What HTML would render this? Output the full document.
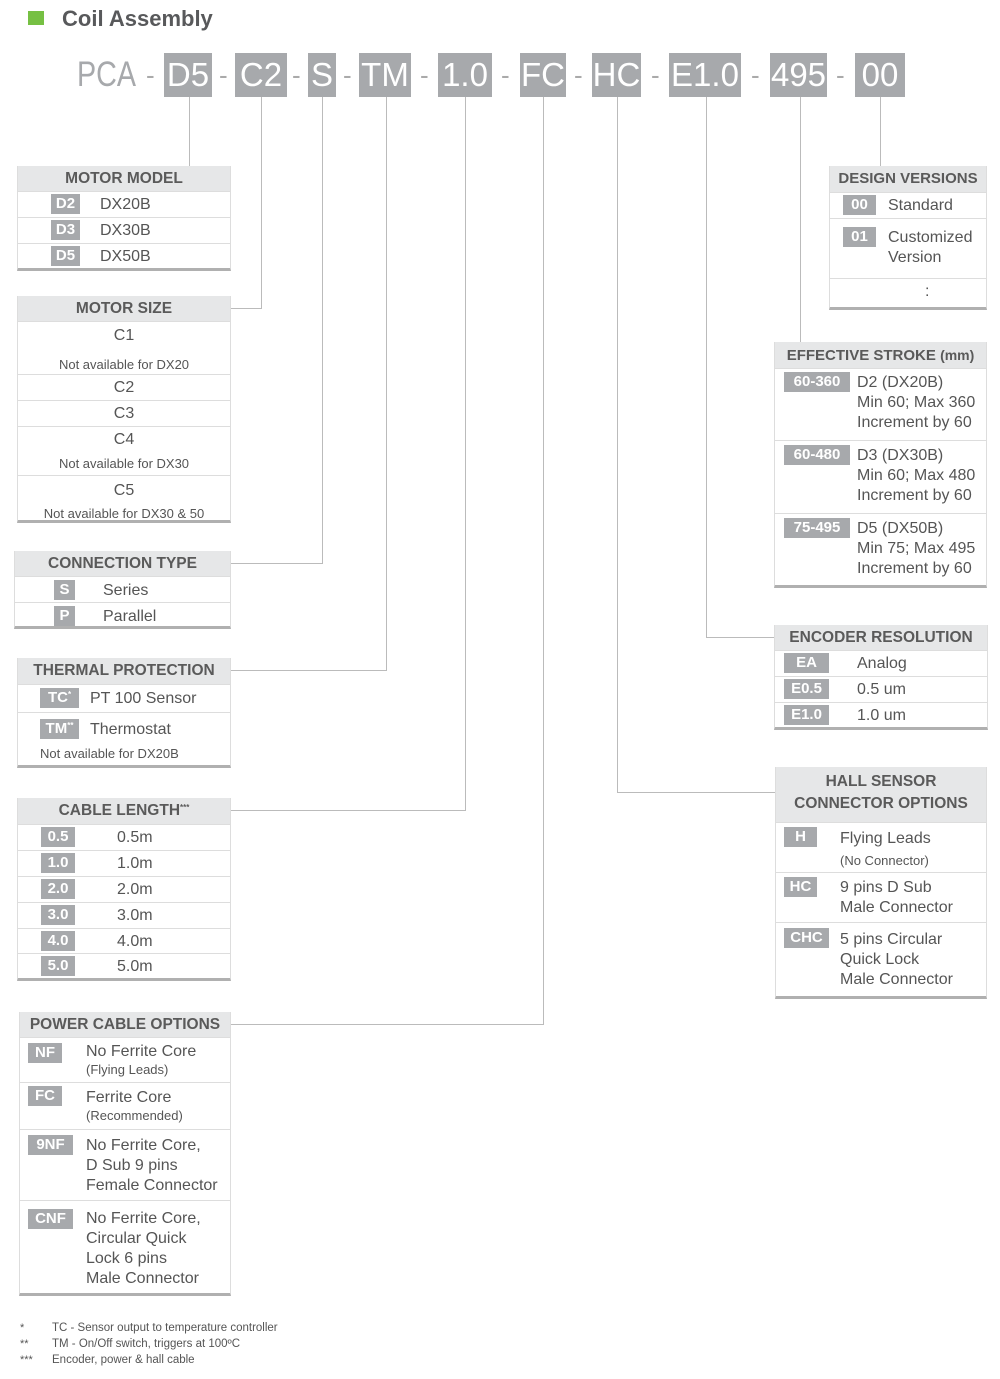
<!DOCTYPE html>
<html><head><meta charset="utf-8"><style>
body{margin:0;width:1000px;height:1379px;position:relative;background:#fff;font-family:"Liberation Sans","DejaVu Sans",sans-serif;color:#555;overflow:hidden}
div{position:absolute;box-sizing:border-box}
.cb{background:#a7a9ac;color:#fff;font-size:33px;line-height:44px;text-align:center;top:53px;height:44px;white-space:nowrap}
.dash{top:53px;line-height:44px;font-size:26px;color:#aaa}
.v{width:1px;background:#bbb}
.h{height:1px;background:#bbb}
.box{background:#fff;border-left:1px solid #ddd;border-right:1px solid #ddd;border-bottom:3px solid #b0b0b0}
.hd{background:#e6e7e8;text-align:center;font-size:15.5px;font-weight:bold;color:#5a5a5a;left:0;right:0;top:0;line-height:26px;white-space:nowrap}
.sep{height:1px;background:#ddd;left:0;right:0}
.bd{background:#a7a9ac;color:#fff;font-size:15px;line-height:20px;height:20px;text-align:center;font-weight:bold}
.bd sup{font-size:8px;position:relative;top:-5px;vertical-align:baseline}
.t{font-size:16px;line-height:20px;white-space:nowrap}
.s{font-size:13px;line-height:16px;white-space:nowrap}
.c{text-align:center}
</style></head><body>
<div style="left:28px;top:11px;width:16px;height:14px;background:#76c043"></div>
<div style="left:62px;top:5px;font-size:22px;line-height:28px;font-weight:bold;color:#58595b">Coil Assembly</div>

<div style="left:77px;top:53px;font-size:35px;line-height:44px;color:#a7a9ac;transform:scaleX(0.82);transform-origin:left">PCA</div>
<div class="dash" style="left:146px">-</div>
<div class="cb" style="left:164px;width:48px">D5</div>
<div class="dash" style="left:219px">-</div>
<div class="cb" style="left:235px;width:52px">C2</div>
<div class="dash" style="left:292px">-</div>
<div class="cb" style="left:308px;width:28px">S</div>
<div class="dash" style="left:343px">-</div>
<div class="cb" style="left:359px;width:52px">TM</div>
<div class="dash" style="left:420px">-</div>
<div class="cb" style="left:438px;width:54px">1.0</div>
<div class="dash" style="left:501px">-</div>
<div class="cb" style="left:520px;width:46px">FC</div>
<div class="dash" style="left:574px">-</div>
<div class="cb" style="left:592px;width:49px">HC</div>
<div class="dash" style="left:651px">-</div>
<div class="cb" style="left:669px;width:72px">E1.0</div>
<div class="dash" style="left:751px">-</div>
<div class="cb" style="left:770px;width:57px">495</div>
<div class="dash" style="left:836px">-</div>
<div class="cb" style="left:855px;width:50px">00</div>

<!-- connectors -->
<div class="v" style="left:189px;top:97px;height:69px"></div>
<div class="v" style="left:261px;top:97px;height:212px"></div><div class="h" style="left:231px;top:308px;width:31px"></div>
<div class="v" style="left:322px;top:97px;height:467px"></div><div class="h" style="left:231px;top:563px;width:92px"></div>
<div class="v" style="left:386px;top:97px;height:574px"></div><div class="h" style="left:231px;top:670px;width:156px"></div>
<div class="v" style="left:465px;top:97px;height:714px"></div><div class="h" style="left:231px;top:810px;width:235px"></div>
<div class="v" style="left:543px;top:97px;height:928px"></div><div class="h" style="left:231px;top:1024px;width:313px"></div>
<div class="v" style="left:617px;top:97px;height:696px"></div><div class="h" style="left:617px;top:792px;width:158px"></div>
<div class="v" style="left:706px;top:97px;height:541px"></div><div class="h" style="left:706px;top:637px;width:69px"></div>
<div class="v" style="left:800px;top:97px;height:245px"></div>
<div class="v" style="left:880px;top:97px;height:69px"></div>

<!-- MOTOR MODEL -->
<div class="box" style="left:17px;top:166px;width:214px;height:105px">
<div class="hd" style="height:25px">MOTOR MODEL</div>
<div class="sep" style="top:25px"></div><div class="sep" style="top:51px"></div><div class="sep" style="top:77px"></div>
</div>
<div class="bd" style="left:51px;top:194px;width:29px">D2</div><div class="t" style="left:100px;top:195px">DX20B</div>
<div class="bd" style="left:51px;top:220px;width:29px">D3</div><div class="t" style="left:100px;top:221px">DX30B</div>
<div class="bd" style="left:51px;top:246px;width:29px">D5</div><div class="t" style="left:100px;top:247px">DX50B</div>

<!-- MOTOR SIZE -->
<div class="box" style="left:17px;top:296px;width:214px;height:227px">
<div class="hd" style="height:25px">MOTOR SIZE</div>
<div class="sep" style="top:25px"></div><div class="sep" style="top:78px"></div><div class="sep" style="top:104px"></div><div class="sep" style="top:130px"></div><div class="sep" style="top:179px"></div>
</div>
<div class="t c" style="left:17px;width:214px;top:326px">C1</div>
<div class="s c" style="left:17px;width:214px;top:357px">Not available for DX20</div>
<div class="t c" style="left:17px;width:214px;top:378px">C2</div>
<div class="t c" style="left:17px;width:214px;top:404px">C3</div>
<div class="t c" style="left:17px;width:214px;top:430px">C4</div>
<div class="s c" style="left:17px;width:214px;top:456px">Not available for DX30</div>
<div class="t c" style="left:17px;width:214px;top:481px">C5</div>
<div class="s c" style="left:17px;width:214px;top:506px">Not available for DX30 &amp; 50</div>

<!-- CONNECTION TYPE -->
<div class="box" style="left:14px;top:551px;width:217px;height:78px">
<div class="hd" style="height:25px">CONNECTION TYPE</div>
<div class="sep" style="top:25px"></div><div class="sep" style="top:51px"></div>
</div>
<div class="bd" style="left:54px;top:580px;width:21px">S</div><div class="t" style="left:103px;top:581px">Series</div>
<div class="bd" style="left:54px;top:606px;width:21px">P</div><div class="t" style="left:103px;top:607px">Parallel</div>

<!-- THERMAL -->
<div class="box" style="left:17px;top:658px;width:214px;height:110px">
<div class="hd" style="height:26px">THERMAL PROTECTION</div>
<div class="sep" style="top:26px"></div><div class="sep" style="top:54px"></div>
</div>
<div class="bd" style="left:40px;top:688px;width:39px">TC<sup>*</sup></div><div class="t" style="left:90px;top:689px">PT 100 Sensor</div>
<div class="bd" style="left:40px;top:719px;width:39px">TM<sup>**</sup></div><div class="t" style="left:90px;top:720px">Thermostat</div>
<div class="s" style="left:40px;top:746px">Not available for DX20B</div>

<!-- CABLE LENGTH -->
<div class="box" style="left:17px;top:798px;width:214px;height:183px">
<div class="hd" style="height:26px">CABLE LENGTH<sup style="font-size:8px;position:relative;top:-5px;vertical-align:baseline">***</sup></div>
<div class="sep" style="top:26px"></div><div class="sep" style="top:52px"></div><div class="sep" style="top:78px"></div><div class="sep" style="top:104px"></div><div class="sep" style="top:130px"></div><div class="sep" style="top:155px"></div>
</div>
<div class="bd" style="left:41px;top:827px;width:34px">0.5</div><div class="t" style="left:117px;top:828px">0.5m</div>
<div class="bd" style="left:41px;top:853px;width:34px">1.0</div><div class="t" style="left:117px;top:854px">1.0m</div>
<div class="bd" style="left:41px;top:879px;width:34px">2.0</div><div class="t" style="left:117px;top:880px">2.0m</div>
<div class="bd" style="left:41px;top:905px;width:34px">3.0</div><div class="t" style="left:117px;top:906px">3.0m</div>
<div class="bd" style="left:41px;top:931px;width:34px">4.0</div><div class="t" style="left:117px;top:932px">4.0m</div>
<div class="bd" style="left:41px;top:956px;width:34px">5.0</div><div class="t" style="left:117px;top:957px">5.0m</div>

<!-- POWER CABLE -->
<div class="box" style="left:19px;top:1012px;width:212px;height:284px">
<div class="hd" style="height:25px">POWER CABLE OPTIONS</div>
<div class="sep" style="top:25px"></div><div class="sep" style="top:70px"></div><div class="sep" style="top:117px"></div><div class="sep" style="top:188px"></div>
</div>
<div class="bd" style="left:28px;top:1043px;width:34px">NF</div><div class="t" style="left:86px;top:1042px">No Ferrite Core</div><div class="s" style="left:86px;top:1062px">(Flying Leads)</div>
<div class="bd" style="left:28px;top:1086px;width:34px">FC</div><div class="t" style="left:86px;top:1088px">Ferrite Core</div><div class="s" style="left:86px;top:1108px">(Recommended)</div>
<div class="bd" style="left:28px;top:1135px;width:45px">9NF</div><div class="t" style="left:86px;top:1136px">No Ferrite Core,<br>D Sub 9 pins<br>Female Connector</div>
<div class="bd" style="left:28px;top:1209px;width:45px">CNF</div><div class="t" style="left:86px;top:1209px">No Ferrite Core,<br>Circular Quick<br>Lock 6 pins<br>Male Connector</div>

<!-- DESIGN VERSIONS -->
<div class="box" style="left:829px;top:166px;width:158px;height:144px">
<div class="hd" style="height:26px;font-size:15px">DESIGN VERSIONS</div>
<div class="sep" style="top:26px"></div><div class="sep" style="top:52px"></div><div class="sep" style="top:112px"></div>
</div>
<div class="bd" style="left:843px;top:195px;width:33px">00</div><div class="t" style="left:888px;top:196px">Standard</div>
<div class="bd" style="left:843px;top:227px;width:33px">01</div><div class="t" style="left:888px;top:228px">Customized<br>Version</div>
<div class="t" style="left:925px;top:282px">:</div>

<!-- EFFECTIVE STROKE -->
<div class="box" style="left:774px;top:342px;width:213px;height:246px">
<div class="hd" style="height:26px;font-size:15px">EFFECTIVE STROKE <span style="font-size:14px">(mm)</span></div>
<div class="sep" style="top:26px"></div><div class="sep" style="top:98px"></div><div class="sep" style="top:171px"></div>
</div>
<div class="bd" style="left:784px;top:372px;width:66px">60-360</div><div class="t" style="left:857px;top:373px">D2 (DX20B)<br>Min 60; Max 360<br>Increment by 60</div>
<div class="bd" style="left:784px;top:445px;width:66px">60-480</div><div class="t" style="left:857px;top:446px">D3 (DX30B)<br>Min 60; Max 480<br>Increment by 60</div>
<div class="bd" style="left:784px;top:518px;width:66px">75-495</div><div class="t" style="left:857px;top:519px">D5 (DX50B)<br>Min 75; Max 495<br>Increment by 60</div>

<!-- ENCODER -->
<div class="box" style="left:774px;top:625px;width:214px;height:105px">
<div class="hd" style="height:25px">ENCODER RESOLUTION</div>
<div class="sep" style="top:25px"></div><div class="sep" style="top:51px"></div><div class="sep" style="top:77px"></div>
</div>
<div class="bd" style="left:784px;top:653px;width:45px">EA</div><div class="t" style="left:857px;top:654px">Analog</div>
<div class="bd" style="left:784px;top:679px;width:45px">E0.5</div><div class="t" style="left:857px;top:680px">0.5 um</div>
<div class="bd" style="left:784px;top:705px;width:45px">E1.0</div><div class="t" style="left:857px;top:706px">1.0 um</div>

<!-- HALL -->
<div class="box" style="left:775px;top:767px;width:212px;height:232px">
<div class="hd" style="height:55px;padding-top:4px;line-height:22px">HALL SENSOR<br>CONNECTOR OPTIONS</div>
<div class="sep" style="top:55px"></div><div class="sep" style="top:105px"></div><div class="sep" style="top:155px"></div>
</div>
<div class="bd" style="left:784px;top:827px;width:33px">H</div><div class="t" style="left:840px;top:829px">Flying Leads</div><div class="s" style="left:840px;top:853px">(No Connector)</div>
<div class="bd" style="left:784px;top:877px;width:33px">HC</div><div class="t" style="left:840px;top:878px">9 pins D Sub<br>Male Connector</div>
<div class="bd" style="left:784px;top:928px;width:45px">CHC</div><div class="t" style="left:840px;top:930px">5 pins Circular<br>Quick Lock<br>Male Connector</div>

<!-- footnotes -->
<div class="s" style="left:20px;top:1320px;font-size:11px;line-height:16px">*<br>**<br>***</div>
<div class="s" style="left:52px;top:1320px;font-size:11.5px;line-height:16px">TC - Sensor output to temperature controller<br>TM - On/Off switch, triggers at 100ºC<br>Encoder, power &amp; hall cable</div>
</body></html>
